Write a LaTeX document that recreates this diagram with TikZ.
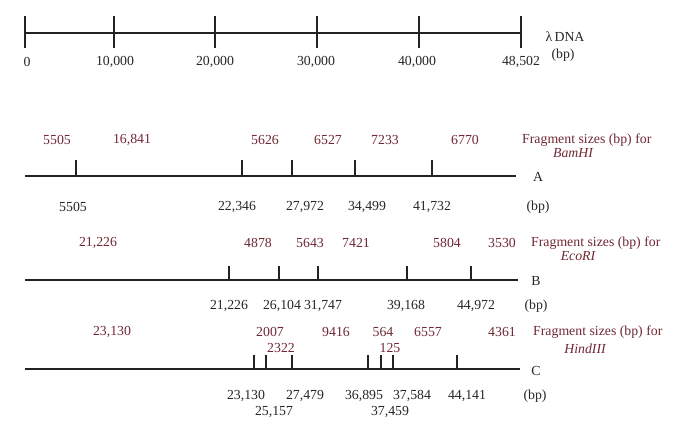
\documentclass[tikz,border=0pt]{standalone}
\usepackage{fontspec}
\setmainfont{Liberation Serif}
\definecolor{frag}{RGB}{112,40,50}
\definecolor{ln}{RGB}{35,35,35}
\begin{document}
\begin{tikzpicture}[x=1pt,y=-1pt,
  lbl/.style={font=\fontsize{13.8}{15}\selectfont, inner sep=0pt, text=black!85},
  flbl/.style={lbl, text=frag},
  axisline/.style={draw=ln, line width=2.4pt},
  tickline/.style={draw=ln, line width=2.2pt}]
\useasboundingbox (0,0) rectangle (700,435);
% ruler
\coordinate (r0) at (25,33); \coordinate (r1) at (521,33);
\draw[axisline] (r0) -- (r1);
\foreach \x in {25,114,215,317,419,521} \draw[tickline] (\x,16) -- (\x,48);
\node[lbl] (t0) at (27,62) {0};
\node[lbl] (t1) at (115,62) {10,000};
\node[lbl] (t2) at (215,62) {20,000};
\node[lbl] (t3) at (316,62) {30,000};
\node[lbl] (t4) at (417,62) {40,000};
\node[lbl] (t5) at (521,62) {48,502};
\node[lbl] (lam) at (565,37) {λ\,DNA};
\node[lbl] (lambp) at (563,55) {(bp)};
% A
\coordinate (a0) at (25,176); \coordinate (a1) at (516,176);
\draw[axisline] (a0) -- (a1);
\foreach \x in {76,242,292,355,432} \draw[tickline] (\x,160) -- (\x,176);
\node[lbl] (A) at (538,177) {A};
\foreach \x/\t [count=\i] in {57/5505,132/{16,841},265/5626,328/6527,385/7233,465/6770}
  \node[flbl] (af\i) at (\x,140) {\t};
\node[flbl, anchor=west] (afs) at (522,140) {Fragment sizes (bp) for};
\node[flbl] (aen) at (573,153) {\itshape BamHI};
\foreach \x/\t [count=\i] in {73/5505,237/{22,346},305/{27,972},367/{34,499},432/{41,732}}
  \node[lbl] (ap\i) at (\x,207) {\t};
\node[lbl] (abp) at (538,207) {(bp)};
% B
\coordinate (b0) at (25,280); \coordinate (b1) at (518,280);
\draw[axisline] (b0) -- (b1);
\foreach \x in {229,279,318,407,471} \draw[tickline] (\x,266) -- (\x,280);
\node[lbl] (B) at (536,281) {B};
\foreach \x/\t [count=\i] in {98/{21,226},258/4878,310/5643,356/7421,447/5804,502/3530}
  \node[flbl] (bf\i) at (\x,243) {\t};
\node[flbl, anchor=west] (bfs) at (531,243) {Fragment sizes (bp) for};
\node[flbl] (ben) at (578,256) {\itshape EcoRI};
\foreach \x/\t [count=\i] in {229/{21,226},282/{26,104},323/{31,747},406/{39,168},476/{44,972}}
  \node[lbl] (bp\i) at (\x,306) {\t};
\node[lbl] (bbp) at (536,306) {(bp)};
% C
\coordinate (c0) at (25,369); \coordinate (c1) at (520,369);
\draw[axisline] (c0) -- (c1);
\foreach \x in {254,266,292,368,381,393,457} \draw[tickline] (\x,355) -- (\x,369);
\node[lbl] (C) at (536,371) {C};
\foreach \x/\t [count=\i] in {112/{23,130},270/2007,336/9416,383/564,428/6557,502/4361}
  \node[flbl] (cf\i) at (\x,332) {\t};
\node[flbl] (cf7) at (281,348) {2322};
\node[flbl] (cf8) at (390,348) {125};
\node[flbl, anchor=west] (cfs) at (533,332) {Fragment sizes (bp) for};
\node[flbl] (cen) at (585,349) {\itshape HindIII};
\foreach \x/\t [count=\i] in {246/{23,130},305/{27,479},364/{36,895},412/{37,584},467/{44,141}}
  \node[lbl] (cp\i) at (\x,396) {\t};
\node[lbl] (cp6) at (274,412) {25,157};
\node[lbl] (cp7) at (390,412) {37,459};
\node[lbl] (cbp) at (535,396) {(bp)};
\end{tikzpicture}
\end{document}
